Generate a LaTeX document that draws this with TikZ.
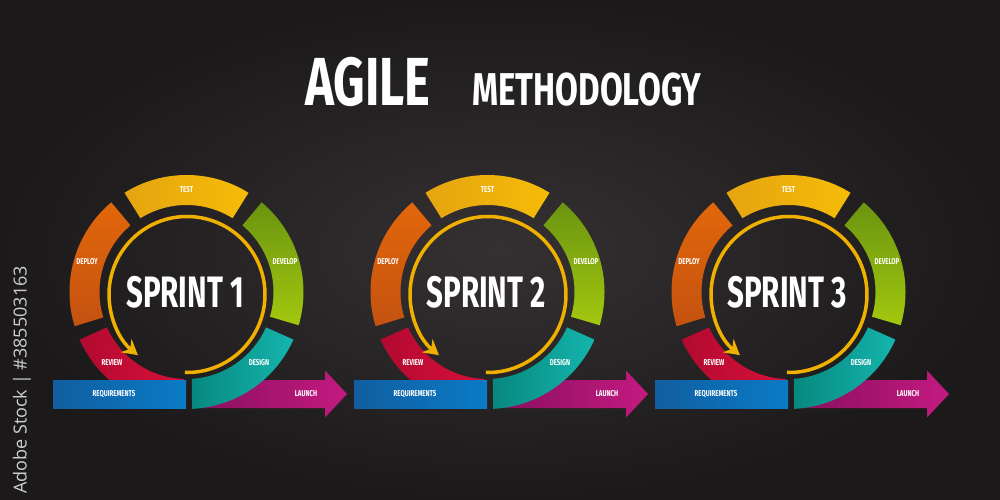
\documentclass[tikz,border=0pt]{standalone}
\usepackage{fontspec}
\usetikzlibrary{arrows.meta}
\newfontfamily\condf[FakeStretch=0.72]{Fira Sans}
\newfontfamily\condg[FakeStretch=0.67]{Fira Sans}
\newfontfamily\wmfont{Open Sans}
\definecolor{bgin}{HTML}{353132}
\definecolor{bgout}{HTML}{1C191A}
\definecolor{testL}{HTML}{E4A410}
\definecolor{testR}{HTML}{F6BC07}
\definecolor{devT}{HTML}{6B9410}
\definecolor{devB}{HTML}{A2C80F}
\definecolor{desL}{HTML}{07887F}
\definecolor{desR}{HTML}{14B5AD}
\definecolor{revL}{HTML}{B20A30}
\definecolor{revR}{HTML}{D8103A}
\definecolor{depT}{HTML}{E2670B}
\definecolor{depB}{HTML}{C45210}
\definecolor{blueL}{HTML}{115EA0}
\definecolor{blueR}{HTML}{0A7BC6}
\definecolor{magL}{HTML}{870F5E}
\definecolor{magR}{HTML}{C41A80}
\definecolor{arcyellow}{HTML}{F0B000}
\definecolor{wmgray}{HTML}{CFCFCF}
\begin{document}
\begin{tikzpicture}[x=1pt,y=-1pt,
  lab/.style={text=white,font=\condf\bfseries\fontsize{8.5}{9}\selectfont,inner sep=0pt},
  big/.style={text=white,font=\condg\bfseries\fontsize{44}{46}\selectfont,inner sep=0pt},
  yarc/.style={draw=arcyellow,line width=3.5pt,-{Stealth[length=15pt,width=17pt,inset=5pt]}}]
\useasboundingbox (0,0) rectangle (1000,500);
\shade[inner color=bgin,outer color=bgout] (0,0) rectangle (1000,500);

\node[anchor=base west,text=white,font=\condf\bfseries\fontsize{68}{70}\selectfont,inner sep=0pt] (agile) at (305,106) {AGILE};
\node[anchor=base west,text=white,font=\condf\bfseries\fontsize{46}{48}\selectfont,inner sep=0pt] (meth) at (472,106) {METHODOLOGY};
\node[rotate=90,text=wmgray,font=\wmfont\fontsize{18}{20}\selectfont,inner sep=0pt] (stockid) at (22,380) {Adobe Stock | \#385503163};

\foreach \i/\n in {0/1,1/2,2/3}{
\begin{scope}[shift={(301*\i,0)}]
  % launch arrow
  \shade[left color=magL,right color=magR] (193,380) -- (325,380) -- (325,370.5) -- (347,394) -- (325,417.5) -- (325,408) -- (193,408) -- cycle;
  \begin{scope}[shift={(186.5,292)}]
    % test
    \shade[left color=testL,right color=testR] (238:117) arc[start angle=238,end angle=302,radius=117] -- (302:87) arc[start angle=302,end angle=238,radius=87] -- cycle;
    % develop
    \shade[top color=devT,bottom color=devB] (-50:117) arc[start angle=-50,end angle=16.5,radius=117] -- (16.5:87) arc[start angle=16.5,end angle=-50,radius=87] -- cycle;
    % design
    \shade[left color=desL,right color=desR] (24:117) arc[start angle=24,end angle=87.3,radius=117] -- (86.4:87) arc[start angle=86.4,end angle=24,radius=87] -- cycle;
    % review
    \begin{scope}
      \clip (-130,-130) rectangle (130,88);
      \shade[left color=revL,right color=revR] (92:117) arc[start angle=92,end angle=156,radius=117] -- (156:87) arc[start angle=156,end angle=92,radius=87] -- cycle;
    \end{scope}
    % deploy
    \shade[top color=depT,bottom color=depB] (163:117) arc[start angle=163,end angle=230,radius=117] -- (230:87) arc[start angle=230,end angle=163,radius=87] -- cycle;
  \end{scope}
  % requirements band
  \shade[left color=blueL,right color=blueR] (53,380) rectangle (186,408);
  % cycle arrow
  \draw[yarc] (187,294.5) ++(91.5:78) arc[start angle=91.5,end angle=-231,radius=78];
  % labels
  \node[lab] (test\n) at (186.5,190) {TEST};
  \node[lab] (deploy\n) at (87,262) {DEPLOY};
  \node[lab] (develop\n) at (285,262) {DEVELOP};
  \node[lab] (review\n) at (112,363) {REVIEW};
  \node[lab] (design\n) at (259,363) {DESIGN};
  \node[lab] (req\n) at (114,394) {REQUIREMENTS};
  \node[lab] (launch\n) at (306,394) {LAUNCH};
  \node[big] (sprint\n) at (185,292) {SPRINT \n};
\end{scope}
}
\end{tikzpicture}
\end{document}
